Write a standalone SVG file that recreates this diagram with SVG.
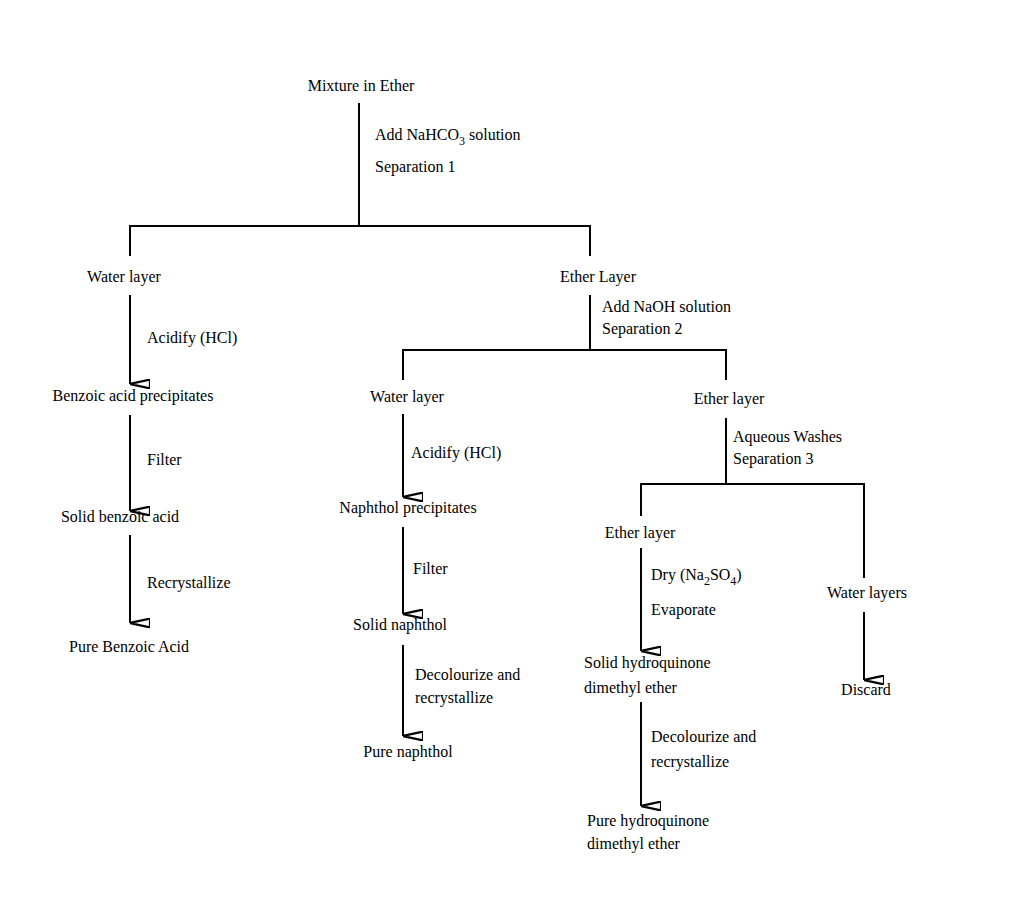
<svg xmlns="http://www.w3.org/2000/svg" width="1024" height="901" viewBox="0 0 1024 901">
<style>
text{font-family:"Liberation Serif","Times New Roman",serif;font-size:16px;fill:#000}
.c{text-anchor:middle}
line,path{stroke:#000;stroke-width:2;fill:none}
</style>
<defs><marker id="a" markerWidth="10" markerHeight="20" refX="4" refY="18" orient="auto" markerUnits="userSpaceOnUse" viewBox="0 0 8 18"><path d="M0,0 L8,0 L4,18 Z" fill="#000" stroke="none"/></marker></defs>
<rect width="1024" height="901" fill="#fff"/>
<g id="connectors">
<path d="M359,103 V226 M130,256 V226 H590 V256"/>
<line x1="130" y1="295" x2="130" y2="384" marker-end="url(#a)"/>
<line x1="130" y1="415" x2="130" y2="511" marker-end="url(#a)"/>
<line x1="130" y1="535" x2="130" y2="623" marker-end="url(#a)"/>
<path d="M590,295 V350 M403,380 V350 H726 V380"/>
<line x1="403" y1="414" x2="403" y2="497" marker-end="url(#a)"/>
<line x1="403" y1="527" x2="403" y2="614" marker-end="url(#a)"/>
<line x1="403" y1="645" x2="403" y2="736" marker-end="url(#a)"/>
<path d="M726,418 V484 M641,516 V484 H864 V578"/>
<line x1="641" y1="548" x2="641" y2="651" marker-end="url(#a)"/>
<line x1="641" y1="702" x2="641" y2="806" marker-end="url(#a)"/>
<line x1="864" y1="612" x2="864" y2="680" marker-end="url(#a)"/>
<text x="375" y="140">Add NaHCO<tspan dy="5" font-size="12">3</tspan><tspan dy="-5"> solution</tspan></text>
<text x="375" y="172">Separation 1</text>
<text x="147" y="343">Acidify (HCl)</text>
<text x="147" y="465">Filter</text>
<text x="147" y="588">Recrystallize</text>
<text x="602" y="312">Add NaOH solution</text>
<text x="602" y="334">Separation 2</text>
<text x="411" y="458">Acidify (HCl)</text>
<text x="413" y="574">Filter</text>
<text x="415" y="680">Decolourize and</text>
<text x="415" y="703">recrystallize</text>
<text x="733" y="442">Aqueous Washes</text>
<text x="733" y="464">Separation 3</text>
<text x="651" y="580">Dry (Na<tspan dy="5" font-size="12">2</tspan><tspan dy="-5">SO</tspan><tspan dy="5" font-size="12">4</tspan><tspan dy="-5">)</tspan></text>
<text x="651" y="615">Evaporate</text>
<text x="651" y="742">Decolourize and</text>
<text x="651" y="767">recrystallize</text>
</g>
<g id="mixture"><text class="c" x="361" y="91">Mixture in Ether</text></g>
<g id="water1"><text class="c" x="124" y="282">Water layer</text></g>
<g id="benzoic-ppt"><text class="c" x="133" y="401">Benzoic acid precipitates</text></g>
<g id="solid-benzoic"><text class="c" x="120" y="522">Solid benzoic acid</text></g>
<g id="pure-benzoic"><text class="c" x="129" y="652">Pure Benzoic Acid</text></g>
<g id="ether1"><text class="c" x="598" y="282">Ether Layer</text></g>
<g id="water2"><text class="c" x="407" y="402">Water layer</text></g>
<g id="naphthol-ppt"><text class="c" x="408" y="513">Naphthol precipitates</text></g>
<g id="solid-naphthol"><text class="c" x="400" y="630">Solid naphthol</text></g>
<g id="pure-naphthol"><text class="c" x="408" y="757">Pure naphthol</text></g>
<g id="ether2"><text class="c" x="729" y="404">Ether layer</text></g>
<g id="ether3"><text class="c" x="640" y="538">Ether layer</text></g>
<g id="solid-hq"><text x="584" y="668">Solid hydroquinone</text><text x="584" y="693">dimethyl ether</text></g>
<g id="pure-hq"><text x="587" y="826">Pure hydroquinone</text><text x="587" y="849">dimethyl ether</text></g>
<g id="water3"><text class="c" x="867" y="598">Water layers</text></g>
<g id="discard"><text class="c" x="866" y="695">Discard</text></g>
</svg>
